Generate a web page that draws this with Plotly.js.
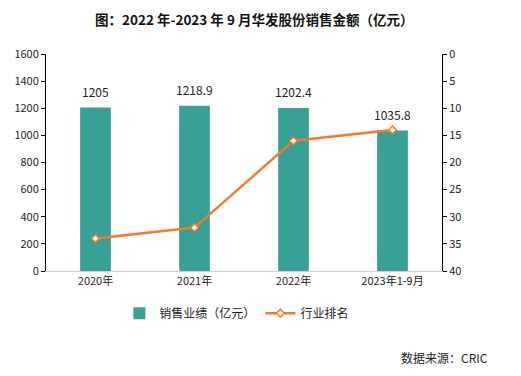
<!DOCTYPE html>
<html><head><meta charset="utf-8">
<script src="https://cdn.plot.ly/plotly-3.0.1.min.js"></script>
<style>body{margin:0;background:#fff}#c{width:521px;height:376px}</style>
</head><body><div id="c"></div>
<script>
const categories = ["2020年", "2021年", "2022年", "2023年1-9月"];
const sales = [1205, 1218.9, 1202.4, 1035.8];
const salesLabels = ["1205", "1218.9", "1202.4", "1035.8"];
const rank = [34, 32, 16, 14];

const F = '"Microsoft YaHei","Noto Sans CJK SC",sans-serif';
const traces = [
  {type:'bar', x:categories, y:sales, name:'销售业绩（亿元）', marker:{color:'#38A094'}, width:0.31},
  {type:'scatter', mode:'lines+markers', x:categories, y:rank, yaxis:'y2', name:'行业排名',
   line:{color:'#ED7D31', width:2.5}, marker:{symbol:'diamond', size:6, color:'#fff', line:{color:'#ED7D31', width:1.5}}}
];
const labelAnns = categories.map((c, i) => ({x:c, y:sales[i], xref:'x', yref:'y', text:salesLabels[i],
  showarrow:false, yanchor:'bottom', yshift:6, font:{size:12, color:'#222', family:F}}));
const layout = {
  width:521, height:376, margin:{l:46, r:79, t:54, b:105},
  paper_bgcolor:'#fff', plot_bgcolor:'#fff',
  font:{family:F, size:11, color:'#222'},
  title:{text:'<b>图：2022 年-2023 年 9 月华发股份销售金额（亿元）</b>', x:0.488, xanchor:'center', y:0.947, yanchor:'middle',
    font:{size:13.5, color:'#111', family:'"Noto Sans CJK SC",sans-serif'}},
  xaxis:{showline:true, linecolor:'#d0d0d0', linewidth:1, ticks:'', tickfont:{size:11}, showgrid:false},
  yaxis:{range:[0,1600], dtick:200, showline:true, linecolor:'#000', linewidth:1, ticks:'outside', ticklen:4, tickcolor:'#000',
    showgrid:false, zeroline:false, tickfont:{size:11}},
  yaxis2:{range:[40,0], dtick:5, overlaying:'y', side:'right', showline:true, linecolor:'#000', linewidth:1, ticks:'outside',
    ticklen:4, tickcolor:'#000', showgrid:false, zeroline:false, tickfont:{size:11}},
  bargap:0.69,
  showlegend:true,
  legend:{orientation:'h', x:0.482, xanchor:'center', y:-0.195, yanchor:'middle', font:{size:12}},
  annotations:labelAnns.concat([{text:'数据来源：CRIC', xref:'paper', yref:'paper', x:(490-46)/396, xanchor:'right',
    y:-(357-271)/217, yanchor:'middle', showarrow:false, font:{size:12, color:'#222', family:'"Noto Sans CJK SC",monospace'}}])
};
Plotly.newPlot('c', traces, layout, {displayModeBar:false});
</script></body></html>
